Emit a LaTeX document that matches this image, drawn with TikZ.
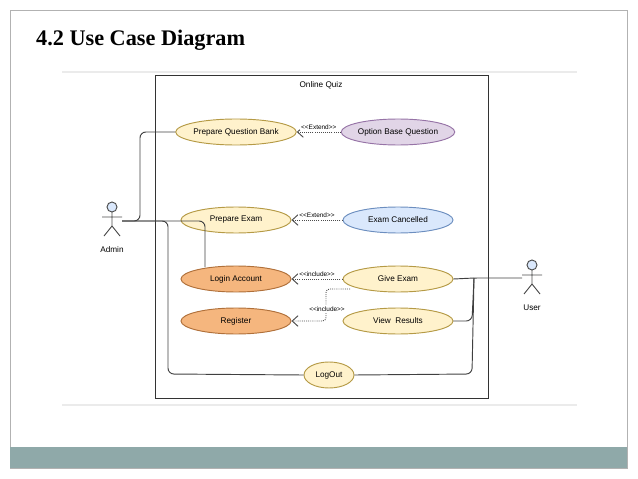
\documentclass[tikz,border=0pt]{standalone}
\usepackage{fontspec}
\setmainfont{Liberation Sans}[Ligatures=NoCommon]
\newfontfamily\titlefont{Liberation Serif}
\usetikzlibrary{arrows.meta,shapes.geometric}
\definecolor{yelF}{HTML}{FFF2CC}\definecolor{yelD}{HTML}{B59A45}
\definecolor{purF}{HTML}{E1D5E7}\definecolor{purD}{HTML}{9673A6}
\definecolor{bluF}{HTML}{DAE8FC}\definecolor{bluD}{HTML}{6C8EBF}
\definecolor{orgF}{HTML}{F5B67E}\definecolor{orgD}{HTML}{B0703A}
\definecolor{band}{HTML}{8FA9A9}
\tikzset{
  uc/.style={ellipse,draw=#1D,fill=#1F,thick,minimum width=3.3cm,minimum height=0.78cm,inner sep=0pt,font=\fontsize{7}{8}\selectfont},
  lnk/.style={draw=black!75,thick,rounded corners=5pt},
  dep/.style={draw=black!70,densely dotted,thick,-{Straight Barb[open,length=5pt,width=9pt]}},
  stereo/.style={font=\fontsize{5.5}{6}\selectfont,fill=white,inner sep=1pt},
  actor/.style={draw=black!70,thick}
}
\newcommand{\stq}[1]{{<}{<}#1{>}{>}}
\begin{document}
\begin{tikzpicture}[x=0.03cm,y=-0.03cm]
\useasboundingbox (0,0) rectangle (638,479);
\draw[black!30] (10,10) rectangle (627,468);
\fill[band] (10,447) rectangle (627,468);
\node[anchor=west,font=\titlefont\bfseries\fontsize{19}{22}\selectfont] (title) at (32,40) {4.2 Use Case Diagram};
\draw[black!8,line width=2pt] (62,72) -- (577,72);
\draw[black!8,line width=2pt] (62,405) -- (577,405);
% system boundary
\draw[black!80,thick] (155,75) rectangle (488,398);
\node[font=\fontsize{7}{8}\selectfont] (sys) at (321,85) {Online Quiz};
% use cases
\node[uc=yel] (pqb) at (236,132) {Prepare Question Bank};
\node[uc=pur] (obq) at (398,132) {Option Base Question};
\node[uc=yel] (pe) at (236,220) {Prepare Exam};
\node[uc=blu] (ec) at (398,220) {Exam Cancelled};
\node[uc=org] (la) at (236,279) {Login Account};
\node[uc=yel] (ge) at (398,279) {Give Exam};
\node[uc=org] (reg) at (236,321) {Register};
\node[uc=yel] (vr) at (398,321) {View\ \ Results};
\node[uc=yel,minimum width=1.5cm] (lo) at (329,375) {LogOut};
% actors
\fill[bluF] (112,207) circle (5);
\draw[actor] (112,207) circle (5);
\draw[actor] (112,212) -- (112,226) (102,217) -- (122,217) (112,226) -- (104,236) (112,226) -- (120,236);
\node[font=\fontsize{7}{8}\selectfont] (admin) at (112,250) {Admin};
\coordinate (adm) at (122,221);
\fill[bluF] (532,265) circle (5);
\draw[actor] (532,265) circle (5);
\draw[actor] (532,270) -- (532,284) (522,275) -- (542,275) (532,284) -- (524,294) (532,284) -- (540,294);
\node[font=\fontsize{7}{8}\selectfont] (user) at (532,308) {User};
\coordinate (usr) at (522,278);
% admin associations
\draw[lnk] (adm) -- (140,221) -- (140,132) -- (pqb.west);
\draw[lnk] (adm) -- (205,221) -- (205,267);
\draw[lnk] (adm) -- (168,221) -- (168,374) -- (lo.west);
% user associations
\draw[lnk] (usr) -- (474,278) -- (ge.east);
\draw[lnk] (vr.east) -- (472,321) -- (474,278);
\draw[lnk] (lo.east) -- (472,374) -- (474,278);
% dependencies
\draw[dep] (obq.west) -- (pqb.east) node[midway,above=1pt,stereo] {\stq{Extend}};
\draw[dep] (ec.west) -- (pe.east) node[midway,above=1pt,stereo] {\stq{Extend}};
\draw[dep] (ge.west) -- (la.east) node[midway,above=1pt,stereo] {\stq{include}};
\draw[dep,rounded corners=3pt] (350,289) -- (326,289) -- (326,321) -- (reg.east);
\node[stereo] (inc2) at (327,309) {\stq{include}};
\end{tikzpicture}
\end{document}
